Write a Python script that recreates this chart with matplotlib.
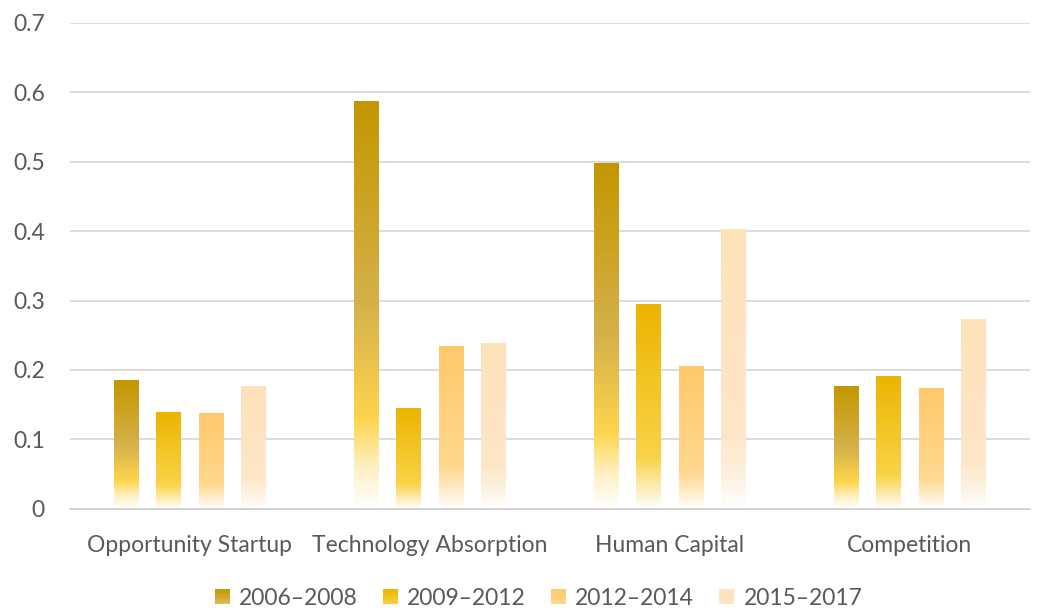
import numpy as np
import matplotlib
matplotlib.use("Agg")
import matplotlib.pyplot as plt
from matplotlib.colors import LinearSegmentedColormap
from matplotlib.legend_handler import HandlerBase
from matplotlib.patches import Rectangle

categories = ["Opportunity Startup", "Technology Absorption", "Human Capital", "Competition"]
series_names = ["2006\u20132008", "2009\u20132012", "2012\u20132014", "2015\u20132017"]
s2006_2008 = [0.185, 0.587, 0.498, 0.177]
s2009_2012 = [0.139, 0.145, 0.295, 0.191]
s2012_2014 = [0.138, 0.234, 0.205, 0.173]
s2015_2017 = [0.177, 0.239, 0.402, 0.273]
yticks = [0, 0.1, 0.2, 0.3, 0.4, 0.5, 0.6, 0.7]
ytick_labels = ["0", "0.1", "0.2", "0.3", "0.4", "0.5", "0.6", "0.7"]

all_series = [s2006_2008, s2009_2012, s2012_2014, s2015_2017]

# gradient stops: (fraction from bottom, colour)
grad_stops = [
    [(0.0, "#FFFFFF"), (0.10, "#FEF0C4"), (0.22, "#FDD54C"), (0.50, "#D5B14A"), (1.0, "#C39700")],
    [(0.0, "#FFFFFF"), (0.10, "#FDEDB8"), (0.25, "#F9D448"), (1.0, "#ECB400")],
    [(0.0, "#FFFFFF"), (0.10, "#FFEFD2"), (0.25, "#FFD890"), (1.0, "#FFC96B")],
    [(0.0, "#FFFFFF"), (0.10, "#FEF3E4"), (0.25, "#FDE7C8"), (1.0, "#FDE1B9")],
]
cmaps = [LinearSegmentedColormap.from_list(f"g{i}", s) for i, s in enumerate(grad_stops)]

text_color = "#595959"
font = "Lato"

fig = plt.figure(figsize=(10.52, 6.16), dpi=100)
ax = fig.add_axes([0.0665, 0.174, 0.9125, 0.789])

x = np.arange(len(categories))
step = 0.177
width = 0.104
offsets = (np.arange(4) - 1.5) * step

grad = np.linspace(0, 1, 256)
for i, (vals, cm) in enumerate(zip(all_series, cmaps)):
    bars = ax.bar(x + offsets[i], vals, width=width, color="none", edgecolor="none", zorder=2)
    for b in bars:
        x0, w, h = b.get_x(), b.get_width(), b.get_height()
        img = cm(grad)[:, None, :]
        ax.imshow(img, extent=[x0, x0 + w, 0, h], origin="lower", aspect="auto",
                  interpolation="bilinear", zorder=2)

ax.set_xlim(-0.5, 3.5)
ax.set_ylim(0, 0.7)
ax.set_yticks(yticks)
ax.set_yticklabels(ytick_labels)
ax.set_xticks(x)
ax.set_xticklabels(categories)
ax.grid(axis="y", color="#D9D9D9", linewidth=1.3, zorder=0)
ax.set_axisbelow(True)
for s in ["top", "right", "left"]:
    ax.spines[s].set_visible(False)
ax.spines["bottom"].set_color("#D0D0D0")
ax.spines["bottom"].set_linewidth(1.3)
ax.tick_params(axis="both", length=0, labelcolor=text_color, labelsize=16.5)
ax.tick_params(axis="y", pad=18)
ax.tick_params(axis="x", pad=18.5)
for lab in ax.get_xticklabels() + ax.get_yticklabels():
    lab.set_fontfamily(font)


class GradHandler(HandlerBase):
    def __init__(self, cmap):
        super().__init__()
        self.cmap = cmap

    def create_artists(self, legend, orig_handle, xdescent, ydescent, width, height, fontsize, trans):
        arts = []
        n = 12
        size = height * 0.95
        x0 = -xdescent + (width - size)
        y0 = -ydescent + (height - size) / 2
        for k in range(n):
            f = 0.35 + 0.65 * (k + 0.5) / n
            r = Rectangle((x0, y0 + size * k / n), size, size / n + 0.05,
                          facecolor=self.cmap(f), edgecolor="none", transform=trans)
            arts.append(r)
        return arts


handles = [Rectangle((0, 0), 1, 1) for _ in series_names]
leg = fig.legend(handles, series_names, loc="center", bbox_to_anchor=(0.511, 0.029),
                 ncol=4, frameon=False, handler_map={h: GradHandler(c) for h, c in zip(handles, cmaps)},
                 handlelength=0.75, handletextpad=0.4, columnspacing=1.0,
                 prop={"family": font, "size": 16.5})
for t in leg.get_texts():
    t.set_color(text_color)

fig.savefig("out.png", dpi=100)
